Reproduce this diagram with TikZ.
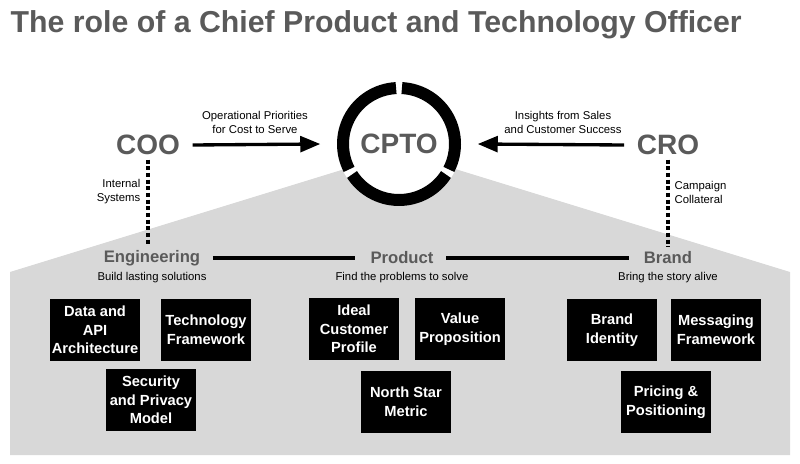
\documentclass[tikz,border=0pt]{standalone}
\usepackage{fontspec}
\setmainfont{Liberation Sans}
\usetikzlibrary{arrows,positioning}
\definecolor{roofgray}{RGB}{216,216,216}
\definecolor{textgray}{RGB}{90,90,90}
\begin{document}
\begin{tikzpicture}[x=0.75pt,y=-0.75pt,>=triangle 45,
      role/.style={font=\bfseries\fontsize{21}{24}\selectfont,text=textgray},
      team/.style={font=\bfseries\fontsize{12.5}{15}\selectfont,text=textgray},
      note/.style={font=\fontsize{8.5}{10.5}\selectfont,align=center},
      task/.style={fill=black,text=white,minimum width=68pt,minimum height=47pt,
                   align=center,font=\bfseries\fontsize{11}{14}\selectfont,inner sep=1pt},
      dots/.style={line width=3.5pt,dash pattern=on 3pt off 2pt}]
    \useasboundingbox (0,0) rectangle (800,464);
    \fill[roofgray] (10,455) -- (10,272) -- (400,152) -- (790,272) -- (790,455) -- cycle;
    \node[anchor=west,font=\bfseries\fontsize{22.7}{26}\selectfont,text=textgray] (title) at (6,25)
         {The role of a Chief Product and Technology Officer};

    % the ring
    \fill[white] (399,144) circle (62);
    \foreach \a in {90,210,330}
      \draw[line width=9pt] ({399+56*cos(\a+3)},{144-56*sin(\a+3)})
            arc[start angle=-(\a+3),end angle=-(\a+117),radius=56];
    \node[role] (cpto) at (399,144) {CPTO};
    \coordinate (cptoL) at (320,144);
    \coordinate (cptoR) at (478,144);

    \node[role] (coo) at (148,145) {COO};
    \node[role] (cro) at (668,145) {CRO};
    \draw[->,line width=2.5pt] (coo.east) ++(8,0) -- (cptoL);
    \draw[->,line width=2.5pt] (cro.west) ++(-8,0) -- (cptoR);
    \node[note] at (255,122) {Operational Priorities\\for Cost to Serve};
    \node[note] at (563,122) {Insights from Sales\\and Customer Success};

    \node[team] (eng) at (152,258) {Engineering};
    \node[team] (prod) at (402,258) {Product};
    \node[team] (brand) at (668,258) {Brand};
    \draw[dots] (coo.south) -- ([xshift=-3pt]eng.north);
    \draw[dots] (cro.south) -- (brand.north);
    \node[note,align=right,anchor=east] at (145,192) {Internal\\Systems};
    \node[note,align=left,anchor=west] at (670,192) {Campaign\\Collateral};
    \draw[line width=2.5pt] (eng.east) ++(8,0) -- ([xshift=-8pt]prod.west);
    \draw[line width=2.5pt] (prod.east) ++(8,0) -- ([xshift=-8pt]brand.west);

    \node[note] (engsub) at (152,278) {Build lasting solutions};
    \node[note] (prodsub) at (402,278) {Find the problems to solve};
    \node[note] (brandsub) at (668,278) {Bring the story alive};

    \node[task] (data) at (95,330) {Data and\\API\\Architecture};
    \node[task] (tech) at (206,330) {Technology\\Framework};
    \node[task] (sec) at (151,400) {Security\\and Privacy\\Model};
    \node[task] (icp) at (354,329) {Ideal\\Customer\\Profile};
    \node[task] (value) at (460,329) {Value\\Proposition};
    \node[task] (north) at (406,402) {North Star\\Metric};
    \node[task] (ident) at (612,330) {Brand\\Identity};
    \node[task] (msg) at (716,330) {Messaging\\Framework};
    \node[task] (price) at (666,402) {Pricing \&\\Positioning};
\end{tikzpicture}
\end{document}
